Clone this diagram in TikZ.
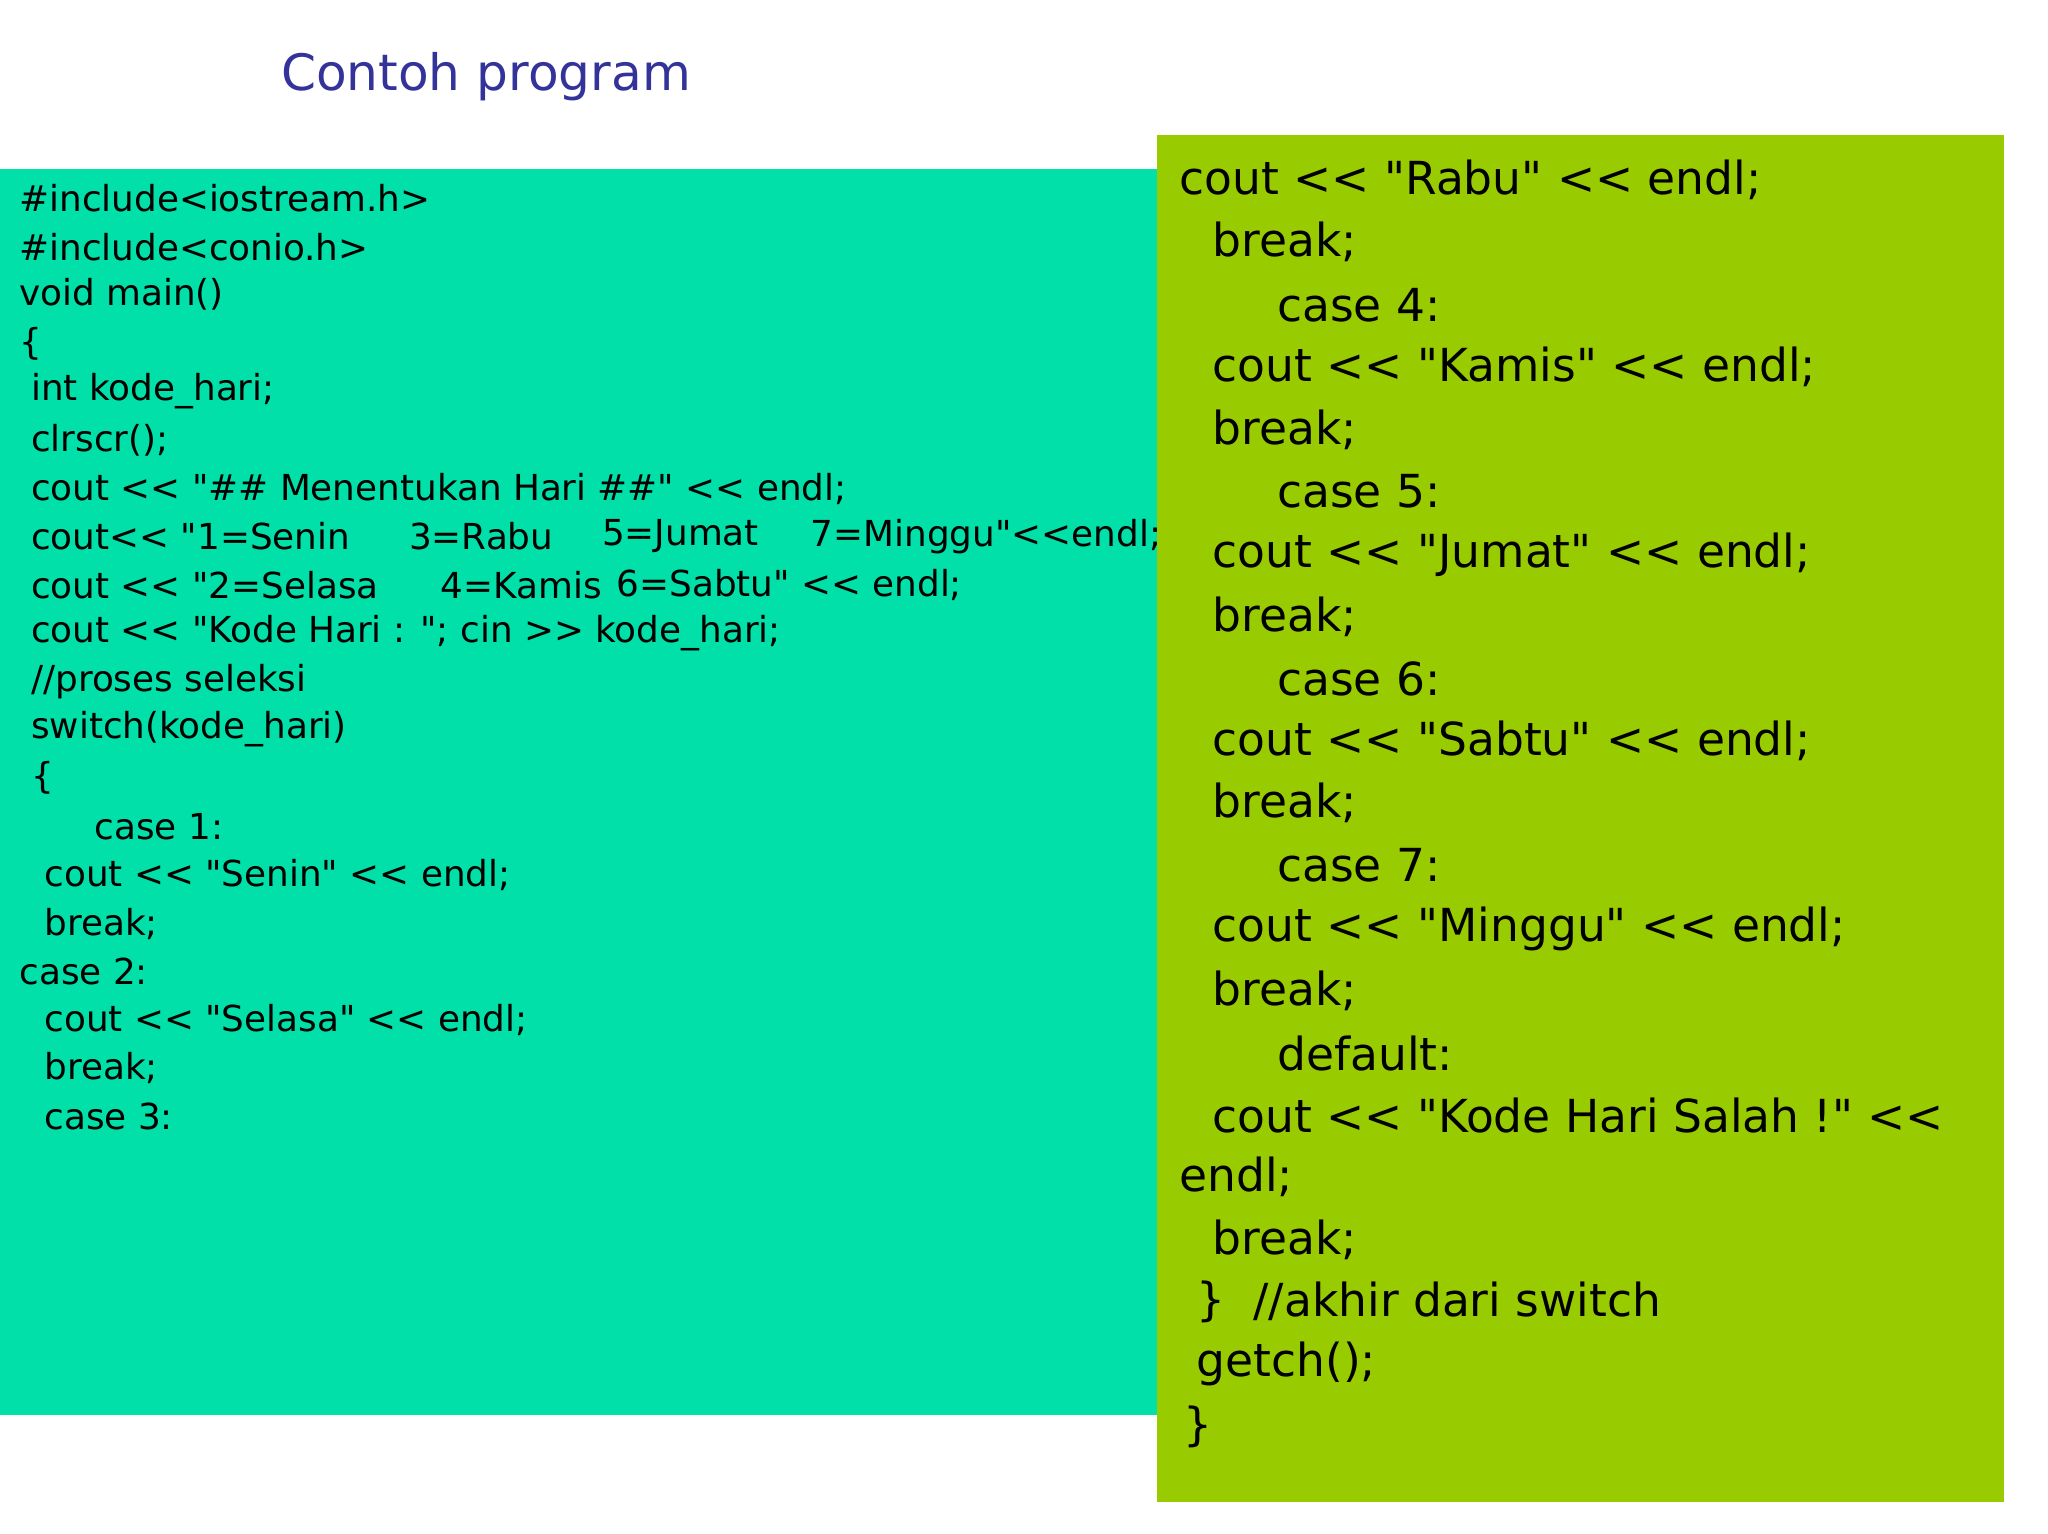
\documentclass[tikz,border=0pt]{standalone}
\usepackage{fontspec}
\setmainfont{DejaVu Sans}[Ligatures=TeXOff]
\definecolor{lgreen}{RGB}{0,224,168}
\definecolor{ygreen}{RGB}{153,204,0}
\definecolor{titleblue}{RGB}{51,51,153}
\begin{document}
\begin{tikzpicture}[x=0.01cm,y=-0.01cm,
  lt/.style={anchor=west,inner sep=0pt,font=\fontsize{7.7}{10}\selectfont},
  rt/.style={anchor=west,inner sep=0pt,font=\fontsize{9.8}{12}\selectfont}]
\useasboundingbox (0,0) rectangle (1550,1161);
\fill[lgreen] (0,128) rectangle (876,1071);
\fill[ygreen] (876,102) rectangle (1517,1137);
\node[anchor=west,inner sep=0pt,text=titleblue,font=\fontsize{10.8}{13}\selectfont] (title) at (212,58) {Contoh program};
\foreach \y/\x/\t [count=\i] in {
150/14/{\#include<iostream.h>},
187/14/{\#include<conio.h>},
223/14/{void main()},
260/14/{\{},
296/23/{int kode\_hari;},
333/23/{clrscr();},
370/23/{cout << "\#\# Menentukan Hari \#\#" << endl;},
406/23/{cout<< "1=Senin},
406/309/{3=Rabu},
406/455/{5=Jumat},
406/613/{7=Minggu"<<endl;},
443/23/{cout << "2=Selasa},
443/333/{4=Kamis},
443/466/{6=Sabtu" << endl;},
479/23/{cout << "Kode Hari : "; cin >> kode\_hari;},
516/23/{//proses seleksi},
552/23/{switch(kode\_hari)},
589/23/{\{},
626/71/{case 1:},
662/33/{cout << "Senin" << endl;},
699/33/{break;},
735/14/{case 2:},
772/33/{cout << "Selasa" << endl;},
808/33/{break;},
845/33/{case 3:}}
  \node[lt] (l\i) at (\x,\y) {\t};
\foreach \y/\x/\t [count=\i] in {
136/892/{cout << "Rabu" << endl;},
183/917/{break;},
231/966/{case 4:},
278/917/{cout << "Kamis" << endl;},
325/917/{break;},
372/966/{case 5:},
420/917/{cout << "Jumat" << endl;},
467/917/{break;},
514/966/{case 6:},
561/917/{cout << "Sabtu" << endl;},
608/917/{break;},
655/966/{case 7:},
703/917/{cout << "Minggu" << endl;},
750/917/{break;},
797/966/{default:},
844/917/{cout << "Kode Hari Salah !" <<},
891/892/{endl;},
938/917/{break;},
985/905/{\}},
985/948/{//akhir dari switch},
1032/905/{getch();},
1080/895/{\}}}
  \node[rt] (r\i) at (\x,\y) {\t};
\end{tikzpicture}
\end{document}
